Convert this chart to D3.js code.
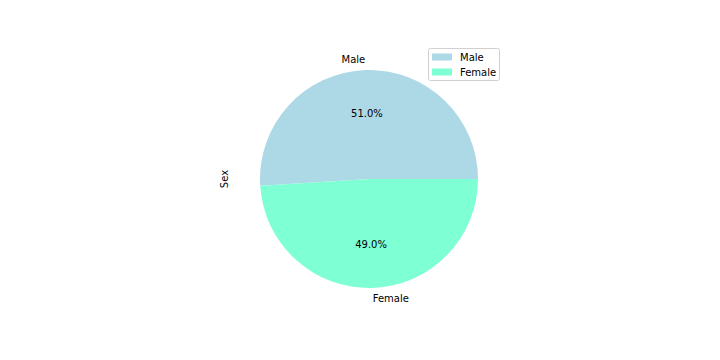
<!DOCTYPE html>
<html>
<head>
<meta charset="utf-8">
<script src="https://cdn.jsdelivr.net/npm/d3@7"></script>
<style>
  body { margin: 0; background: #fff; }
  text { font-family: "DejaVu Sans", sans-serif; font-size: 10px; fill: #000; }
</style>
</head>
<body>
<div id="chart"></div>
<script>
// data
const categories = ["Male", "Female"];
const values = [51.0, 49.0];
const colors = ["#add8e6", "#7fffd4"];
const yLabel = "Sex";

const width = 720;
const height = 360;
const cx = 369, cy = 179, radius = 109;

const svg = d3.select("#chart").append("svg")
    .attr("width", width)
    .attr("height", height);

const data = categories.map((c, i) => ({ name: c, value: values[i], color: colors[i] }));

// matplotlib style: start at 3 o'clock, go counterclockwise
const pie = d3.pie()
    .value(d => d.value)
    .sort(null)
    .startAngle(Math.PI / 2)
    .endAngle(Math.PI / 2 - 2 * Math.PI);

const arc = d3.arc().innerRadius(0).outerRadius(radius);
const arcs = pie(data);

const g = svg.append("g").attr("transform", `translate(${cx},${cy})`);

g.selectAll("path")
    .data(arcs)
    .enter()
    .append("path")
    .attr("d", arc)
    .attr("fill", d => d.data.color);

// label positions
function pos(d, r) {
    const a = (d.startAngle + d.endAngle) / 2;
    return [r * Math.sin(a), -r * Math.cos(a)];
}

g.selectAll(".lbl")
    .data(arcs)
    .enter()
    .append("text")
    .attr("class", "lbl")
    .attr("x", d => pos(d, radius * 1.1)[0])
    .attr("y", d => pos(d, radius * 1.1)[1])
    .attr("dy", "0.35em")
    .attr("text-anchor", d => pos(d, 1)[0] < 0 ? "end" : "start")
    .text(d => d.data.name);

g.selectAll(".pct")
    .data(arcs)
    .enter()
    .append("text")
    .attr("class", "pct")
    .attr("x", d => pos(d, radius * 0.6)[0])
    .attr("y", d => pos(d, radius * 0.6)[1])
    .attr("dy", "0.35em")
    .attr("text-anchor", "middle")
    .text(d => d.data.value.toFixed(1) + "%");

// y label
svg.append("text")
    .attr("transform", `translate(228,${cy}) rotate(-90)`)
    .attr("text-anchor", "middle")
    .text(yLabel);

// legend
const legend = svg.append("g").attr("transform", "translate(428,48)");
legend.append("rect")
    .attr("x", 0.5).attr("y", 0.5)
    .attr("width", 71).attr("height", 32)
    .attr("rx", 2)
    .attr("fill", "#fff")
    .attr("fill-opacity", 0.8)
    .attr("stroke", "#d0d0d0");

const items = legend.selectAll(".item")
    .data(data)
    .enter()
    .append("g")
    .attr("transform", (d, i) => `translate(0,${9 + i * 15})`);

items.append("rect")
    .attr("x", 4).attr("y", -3.5)
    .attr("width", 20).attr("height", 7)
    .attr("fill", d => d.color);

items.append("text")
    .attr("x", 32)
    .attr("y", 0)
    .attr("dy", "0.35em")
    .text(d => d.name);
</script>
</body>
</html>
